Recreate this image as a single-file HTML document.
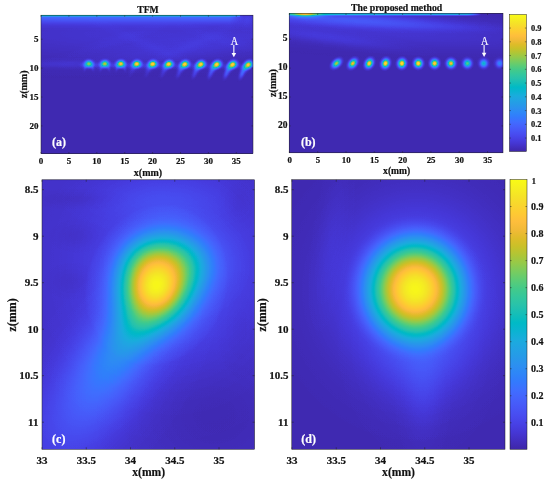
<!DOCTYPE html><html><head><meta charset="utf-8"><title>TFM vs proposed method</title><style>html,body{margin:0;padding:0;background:#fff}svg{display:block}text{font-family:"Liberation Serif","Times New Roman",serif;font-weight:bold;fill:#111;stroke:#111;stroke-width:0.2px}</style></head><body>
<svg width="550" height="485" viewBox="0 0 550 485">
<defs><filter id="parula" x="0" y="0" width="100%" height="100%" filterUnits="objectBoundingBox" color-interpolation-filters="sRGB"><feComponentTransfer><feFuncR type="table" tableValues="0.2422 0.2503 0.2575 0.2644 0.2703 0.2748 0.2780 0.2802 0.2813 0.2811 0.2799 0.2768 0.2713 0.2626 0.2483 0.2264 0.2021 0.1853 0.1798 0.1769 0.1724 0.1585 0.1481 0.1416 0.1300 0.1165 0.1025 0.0817 0.0478 0.0120 0.0014 0.0209 0.0704 0.1195 0.1568 0.1823 0.2028 0.2275 0.2632 0.3100 0.3594 0.4098 0.4658 0.5234 0.5791 0.6337 0.6870 0.7377 0.7858 0.8306 0.8725 0.9111 0.9456 0.9782 0.9967 0.9969 0.9948 0.9882 0.9775 0.9669 0.9608 0.9597 0.9629 0.9692 0.9769"/><feFuncG type="table" tableValues="0.1504 0.1647 0.1813 0.1970 0.2135 0.2326 0.2538 0.2758 0.2978 0.3196 0.3413 0.3629 0.3850 0.4076 0.4306 0.4544 0.4788 0.5015 0.5229 0.5437 0.5639 0.5838 0.6027 0.6209 0.6391 0.6567 0.6734 0.6886 0.7025 0.7149 0.7262 0.7364 0.7457 0.7541 0.7624 0.7709 0.7796 0.7877 0.7943 0.7989 0.8018 0.8031 0.8016 0.7978 0.7924 0.7853 0.7767 0.7672 0.7573 0.7475 0.7388 0.7318 0.7285 0.7308 0.7467 0.7691 0.7922 0.8163 0.8410 0.8659 0.8906 0.9146 0.9381 0.9610 0.9839"/><feFuncB type="table" tableValues="0.6603 0.7069 0.7498 0.7932 0.8340 0.8686 0.8967 0.9198 0.9391 0.9558 0.9697 0.9813 0.9895 0.9944 0.9981 0.9987 0.9911 0.9826 0.9717 0.9572 0.9405 0.9265 0.9125 0.9007 0.8918 0.8816 0.8670 0.8484 0.8267 0.8031 0.7782 0.7524 0.7258 0.6986 0.6708 0.6420 0.6111 0.5776 0.5416 0.5035 0.4629 0.4193 0.3761 0.3339 0.2907 0.2492 0.2132 0.1833 0.1598 0.1538 0.1623 0.1830 0.2167 0.2423 0.2344 0.2175 0.2007 0.1872 0.1754 0.1634 0.1530 0.1416 0.1260 0.1060 0.0805"/></feComponentTransfer></filter><radialGradient id="gs" cx="0.5" cy="0.5" r="0.5"><stop offset="0.000" stop-color="#fff" stop-opacity="1.0000"/><stop offset="0.050" stop-color="#fff" stop-opacity="0.9888"/><stop offset="0.100" stop-color="#fff" stop-opacity="0.9560"/><stop offset="0.150" stop-color="#fff" stop-opacity="0.9037"/><stop offset="0.200" stop-color="#fff" stop-opacity="0.8353"/><stop offset="0.250" stop-color="#fff" stop-opacity="0.7548"/><stop offset="0.300" stop-color="#fff" stop-opacity="0.6670"/><stop offset="0.350" stop-color="#fff" stop-opacity="0.5762"/><stop offset="0.400" stop-color="#fff" stop-opacity="0.4868"/><stop offset="0.450" stop-color="#fff" stop-opacity="0.4020"/><stop offset="0.500" stop-color="#fff" stop-opacity="0.3247"/><stop offset="0.550" stop-color="#fff" stop-opacity="0.2563"/><stop offset="0.600" stop-color="#fff" stop-opacity="0.1979"/><stop offset="0.650" stop-color="#fff" stop-opacity="0.1494"/><stop offset="0.700" stop-color="#fff" stop-opacity="0.1103"/><stop offset="0.750" stop-color="#fff" stop-opacity="0.0796"/><stop offset="0.800" stop-color="#fff" stop-opacity="0.0561"/><stop offset="0.850" stop-color="#fff" stop-opacity="0.0387"/><stop offset="0.900" stop-color="#fff" stop-opacity="0.0261"/><stop offset="0.950" stop-color="#fff" stop-opacity="0.0172"/><stop offset="1.000" stop-color="#fff" stop-opacity="0.0000"/></radialGradient><radialGradient id="gk" cx="0.5" cy="0.5" r="0.5"><stop offset="0.000" stop-color="#000" stop-opacity="1.0000"/><stop offset="0.050" stop-color="#000" stop-opacity="0.9888"/><stop offset="0.100" stop-color="#000" stop-opacity="0.9560"/><stop offset="0.150" stop-color="#000" stop-opacity="0.9037"/><stop offset="0.200" stop-color="#000" stop-opacity="0.8353"/><stop offset="0.250" stop-color="#000" stop-opacity="0.7548"/><stop offset="0.300" stop-color="#000" stop-opacity="0.6670"/><stop offset="0.350" stop-color="#000" stop-opacity="0.5762"/><stop offset="0.400" stop-color="#000" stop-opacity="0.4868"/><stop offset="0.450" stop-color="#000" stop-opacity="0.4020"/><stop offset="0.500" stop-color="#000" stop-opacity="0.3247"/><stop offset="0.550" stop-color="#000" stop-opacity="0.2563"/><stop offset="0.600" stop-color="#000" stop-opacity="0.1979"/><stop offset="0.650" stop-color="#000" stop-opacity="0.1494"/><stop offset="0.700" stop-color="#000" stop-opacity="0.1103"/><stop offset="0.750" stop-color="#000" stop-opacity="0.0796"/><stop offset="0.800" stop-color="#000" stop-opacity="0.0561"/><stop offset="0.850" stop-color="#000" stop-opacity="0.0387"/><stop offset="0.900" stop-color="#000" stop-opacity="0.0261"/><stop offset="0.950" stop-color="#000" stop-opacity="0.0172"/><stop offset="1.000" stop-color="#000" stop-opacity="0.0000"/></radialGradient><linearGradient id="cb" x1="0" y1="0" x2="0" y2="1"><stop offset="0.0000" stop-color="#f9fb15"/><stop offset="0.0312" stop-color="#f6ef20"/><stop offset="0.0625" stop-color="#f5e327"/><stop offset="0.0938" stop-color="#f9d62d"/><stop offset="0.1250" stop-color="#feca33"/><stop offset="0.1562" stop-color="#febe3c"/><stop offset="0.1875" stop-color="#f1ba37"/><stop offset="0.2188" stop-color="#debc29"/><stop offset="0.2500" stop-color="#c8c129"/><stop offset="0.2812" stop-color="#aec637"/><stop offset="0.3125" stop-color="#93ca4b"/><stop offset="0.3438" stop-color="#76cc61"/><stop offset="0.3750" stop-color="#5acc77"/><stop offset="0.4062" stop-color="#42ca8b"/><stop offset="0.4375" stop-color="#33c79d"/><stop offset="0.4688" stop-color="#27c2ac"/><stop offset="0.5000" stop-color="#14beb8"/><stop offset="0.5312" stop-color="#00bac6"/><stop offset="0.5625" stop-color="#0bb3d2"/><stop offset="0.5938" stop-color="#1aacdd"/><stop offset="0.6250" stop-color="#21a3e3"/><stop offset="0.6562" stop-color="#269ae8"/><stop offset="0.6875" stop-color="#2c90f0"/><stop offset="0.7188" stop-color="#2e86f8"/><stop offset="0.7500" stop-color="#337afd"/><stop offset="0.7812" stop-color="#3f6eff"/><stop offset="0.8125" stop-color="#4562fc"/><stop offset="0.8438" stop-color="#4757f7"/><stop offset="0.8750" stop-color="#484cf0"/><stop offset="0.9062" stop-color="#4741e5"/><stop offset="0.9375" stop-color="#4537d5"/><stop offset="0.9688" stop-color="#422ebf"/><stop offset="1.0000" stop-color="#3e26a8"/></linearGradient><radialGradient id="gc" cx="0.5" cy="0.5" r="0.5"><stop offset="0.000" stop-color="#fff" stop-opacity="1.0000"/><stop offset="0.042" stop-color="#fff" stop-opacity="0.9957"/><stop offset="0.083" stop-color="#fff" stop-opacity="0.9830"/><stop offset="0.125" stop-color="#fff" stop-opacity="0.9619"/><stop offset="0.167" stop-color="#fff" stop-opacity="0.9330"/><stop offset="0.208" stop-color="#fff" stop-opacity="0.8967"/><stop offset="0.250" stop-color="#fff" stop-opacity="0.8536"/><stop offset="0.292" stop-color="#fff" stop-opacity="0.8044"/><stop offset="0.333" stop-color="#fff" stop-opacity="0.7500"/><stop offset="0.375" stop-color="#fff" stop-opacity="0.6913"/><stop offset="0.417" stop-color="#fff" stop-opacity="0.6294"/><stop offset="0.458" stop-color="#fff" stop-opacity="0.5653"/><stop offset="0.500" stop-color="#fff" stop-opacity="0.5000"/><stop offset="0.542" stop-color="#fff" stop-opacity="0.4347"/><stop offset="0.583" stop-color="#fff" stop-opacity="0.3706"/><stop offset="0.625" stop-color="#fff" stop-opacity="0.3087"/><stop offset="0.667" stop-color="#fff" stop-opacity="0.2500"/><stop offset="0.708" stop-color="#fff" stop-opacity="0.1956"/><stop offset="0.750" stop-color="#fff" stop-opacity="0.1464"/><stop offset="0.792" stop-color="#fff" stop-opacity="0.1033"/><stop offset="0.833" stop-color="#fff" stop-opacity="0.0670"/><stop offset="0.875" stop-color="#fff" stop-opacity="0.0381"/><stop offset="0.917" stop-color="#fff" stop-opacity="0.0170"/><stop offset="0.958" stop-color="#fff" stop-opacity="0.0043"/><stop offset="1.000" stop-color="#fff" stop-opacity="0.0000"/></radialGradient><mask id="mR" maskContentUnits="objectBoundingBox"><rect width="1" height="1" fill="url(#fadeR)"/></mask><linearGradient id="vg" x1="0" y1="0" x2="0" y2="1"><stop offset="0.000" stop-color="#fff" stop-opacity="1.0000"/><stop offset="0.083" stop-color="#fff" stop-opacity="0.9692"/><stop offset="0.167" stop-color="#fff" stop-opacity="0.8825"/><stop offset="0.250" stop-color="#fff" stop-opacity="0.7548"/><stop offset="0.333" stop-color="#fff" stop-opacity="0.6065"/><stop offset="0.417" stop-color="#fff" stop-opacity="0.4578"/><stop offset="0.500" stop-color="#fff" stop-opacity="0.3247"/><stop offset="0.583" stop-color="#fff" stop-opacity="0.2163"/><stop offset="0.667" stop-color="#fff" stop-opacity="0.1353"/><stop offset="0.750" stop-color="#fff" stop-opacity="0.0796"/><stop offset="0.833" stop-color="#fff" stop-opacity="0.0439"/><stop offset="0.917" stop-color="#fff" stop-opacity="0.0228"/><stop offset="1.000" stop-color="#fff" stop-opacity="0.0000"/></linearGradient><linearGradient id="fadeR" x1="0" y1="0" x2="1" y2="0"><stop offset="0" stop-color="#fff" stop-opacity="1"/><stop offset="0.93" stop-color="#fff" stop-opacity="1"/><stop offset="1" stop-color="#fff" stop-opacity="0"/></linearGradient><filter id="b1" x="-20%" y="-20%" width="140%" height="140%"><feGaussianBlur stdDeviation="0.7"/></filter><filter id="b3" x="-20%" y="-20%" width="140%" height="140%"><feGaussianBlur stdDeviation="3"/></filter><filter id="b8" x="-30%" y="-30%" width="160%" height="160%"><feGaussianBlur stdDeviation="8"/></filter></defs>
<rect width="550" height="485" fill="#fff"/>
<svg x="41" y="15.2" width="212" height="138.4" viewBox="41 15.2 212 138.4" overflow="hidden"><g filter="url(#parula)"><rect x="36" y="10.2" width="222" height="148.4" fill="#030303"/><ellipse cx="147" cy="34" rx="420" ry="51" fill="url(#gs)" opacity="0.05"/><ellipse cx="180" cy="50" rx="210" ry="24" fill="url(#gs)" opacity="0.025" transform="rotate(-8 180 50)"/><ellipse cx="62" cy="64" rx="72" ry="7.8" fill="url(#gs)" opacity="0.035"/><ellipse cx="150" cy="46" rx="105" ry="10.5" fill="url(#gs)" opacity="0.013" transform="rotate(24 150 46)"/><ellipse cx="192" cy="45" rx="105" ry="10.5" fill="url(#gs)" opacity="0.013" transform="rotate(-24 192 45)"/><ellipse cx="118" cy="40" rx="90" ry="10.5" fill="url(#gs)" opacity="0.01" transform="rotate(-18 118 40)"/><ellipse cx="218" cy="38" rx="75" ry="10.5" fill="url(#gs)" opacity="0.01" transform="rotate(18 218 38)"/><rect x="36" y="13" width="204" height="3.4" fill="#fff" opacity="0.3" filter="url(#b1)"/><rect x="36" y="14.5" width="208" height="16.5" fill="url(#vg)" opacity="0.2" mask="url(#mR)"/><ellipse cx="247" cy="19" rx="18" ry="15" fill="url(#gs)" opacity="0.06"/><ellipse cx="88.8" cy="65" rx="10.8" ry="5.1" fill="url(#gs)" opacity="0.3"/><ellipse cx="88.8" cy="63.4" rx="6.9" ry="5.7" fill="url(#gs)" opacity="0.6"/><ellipse cx="85.2" cy="67.3" rx="3" ry="6.6" fill="url(#gs)" opacity="0.07" transform="rotate(15 85.2 67.3)"/><ellipse cx="92.4" cy="67.3" rx="3" ry="6.6" fill="url(#gs)" opacity="0.07" transform="rotate(-15 92.4 67.3)"/><ellipse cx="104.72" cy="65.11" rx="10.8" ry="5.1" fill="url(#gs)" opacity="0.3" transform="rotate(-1.2 104.72 65.11)"/><ellipse cx="104.78" cy="63.51" rx="6.96" ry="5.73" fill="url(#gs)" opacity="0.68" transform="rotate(-3.5 104.78 63.51)"/><ellipse cx="101.2" cy="67.41" rx="3" ry="6.6" fill="url(#gs)" opacity="0.07" transform="rotate(15 101.2 67.41)"/><ellipse cx="108.4" cy="67.41" rx="3" ry="6.6" fill="url(#gs)" opacity="0.07" transform="rotate(-15 108.4 67.41)"/><ellipse cx="120.64" cy="65.22" rx="10.8" ry="5.1" fill="url(#gs)" opacity="0.3" transform="rotate(-2.4 120.64 65.22)"/><ellipse cx="120.76" cy="63.62" rx="7.02" ry="5.76" fill="url(#gs)" opacity="0.85" transform="rotate(-7 120.76 63.62)"/><ellipse cx="117.2" cy="67.52" rx="3" ry="6.6" fill="url(#gs)" opacity="0.07" transform="rotate(15 117.2 67.52)"/><ellipse cx="124.4" cy="67.52" rx="3" ry="6.6" fill="url(#gs)" opacity="0.07" transform="rotate(-15 124.4 67.52)"/><ellipse cx="136.56" cy="65.33" rx="10.8" ry="5.1" fill="url(#gs)" opacity="0.3" transform="rotate(-3.6 136.56 65.33)"/><ellipse cx="136.74" cy="63.73" rx="7.08" ry="5.79" fill="url(#gs)" opacity="0.9" transform="rotate(-10.5 136.74 63.73)"/><ellipse cx="133.82" cy="67.43" rx="5.4" ry="7.8" fill="url(#gs)" opacity="0.078" transform="rotate(35 133.82 67.43)"/><ellipse cx="131.24" cy="72.63" rx="4.5" ry="10.2" fill="url(#gs)" opacity="0.0153" transform="rotate(22 131.24 72.63)"/><ellipse cx="152.48" cy="65.44" rx="10.8" ry="5.1" fill="url(#gs)" opacity="0.3" transform="rotate(-4.8 152.48 65.44)"/><ellipse cx="152.72" cy="63.84" rx="7.14" ry="5.82" fill="url(#gs)" opacity="0.93" transform="rotate(-14 152.72 63.84)"/><ellipse cx="149.76" cy="67.54" rx="5.4" ry="7.8" fill="url(#gs)" opacity="0.104" transform="rotate(35 149.76 67.54)"/><ellipse cx="147.12" cy="72.74" rx="4.5" ry="10.2" fill="url(#gs)" opacity="0.0272" transform="rotate(22 147.12 72.74)"/><ellipse cx="168.4" cy="65.55" rx="10.8" ry="5.1" fill="url(#gs)" opacity="0.3" transform="rotate(-6 168.4 65.55)"/><ellipse cx="168.7" cy="63.95" rx="7.2" ry="5.85" fill="url(#gs)" opacity="0.93" transform="rotate(-17.5 168.7 63.95)"/><ellipse cx="165.7" cy="67.65" rx="5.4" ry="7.8" fill="url(#gs)" opacity="0.13" transform="rotate(35 165.7 67.65)"/><ellipse cx="163" cy="72.85" rx="4.5" ry="10.2" fill="url(#gs)" opacity="0.0425" transform="rotate(22 163 72.85)"/><ellipse cx="184.42" cy="65.66" rx="10.8" ry="5.1" fill="url(#gs)" opacity="0.3" transform="rotate(-7.2 184.42 65.66)"/><ellipse cx="184.78" cy="64.06" rx="7.26" ry="5.88" fill="url(#gs)" opacity="0.93" transform="rotate(-21 184.78 64.06)"/><ellipse cx="181.74" cy="67.76" rx="5.4" ry="7.8" fill="url(#gs)" opacity="0.156" transform="rotate(35 181.74 67.76)"/><ellipse cx="178.98" cy="72.96" rx="4.5" ry="10.2" fill="url(#gs)" opacity="0.0612" transform="rotate(22 178.98 72.96)"/><ellipse cx="200.34" cy="65.77" rx="10.8" ry="5.1" fill="url(#gs)" opacity="0.3" transform="rotate(-8.4 200.34 65.77)"/><ellipse cx="200.76" cy="64.17" rx="7.32" ry="5.91" fill="url(#gs)" opacity="0.93" transform="rotate(-24.5 200.76 64.17)"/><ellipse cx="197.68" cy="67.87" rx="5.4" ry="7.8" fill="url(#gs)" opacity="0.182" transform="rotate(35 197.68 67.87)"/><ellipse cx="194.86" cy="73.07" rx="4.5" ry="10.2" fill="url(#gs)" opacity="0.0833" transform="rotate(22 194.86 73.07)"/><ellipse cx="216.26" cy="65.88" rx="10.8" ry="5.1" fill="url(#gs)" opacity="0.3" transform="rotate(-9.6 216.26 65.88)"/><ellipse cx="216.74" cy="64.28" rx="7.38" ry="5.94" fill="url(#gs)" opacity="0.93" transform="rotate(-28 216.74 64.28)"/><ellipse cx="213.62" cy="67.98" rx="5.4" ry="7.8" fill="url(#gs)" opacity="0.208" transform="rotate(35 213.62 67.98)"/><ellipse cx="210.74" cy="73.18" rx="4.5" ry="10.2" fill="url(#gs)" opacity="0.1088" transform="rotate(22 210.74 73.18)"/><ellipse cx="232.08" cy="65.99" rx="10.8" ry="5.1" fill="url(#gs)" opacity="0.3" transform="rotate(-10.8 232.08 65.99)"/><ellipse cx="232.62" cy="64.39" rx="7.44" ry="5.97" fill="url(#gs)" opacity="0.92" transform="rotate(-31.5 232.62 64.39)"/><ellipse cx="229.46" cy="68.09" rx="5.4" ry="7.8" fill="url(#gs)" opacity="0.234" transform="rotate(35 229.46 68.09)"/><ellipse cx="226.52" cy="73.29" rx="4.5" ry="10.2" fill="url(#gs)" opacity="0.1377" transform="rotate(22 226.52 73.29)"/><ellipse cx="247.7" cy="66.1" rx="10.8" ry="5.1" fill="url(#gs)" opacity="0.3" transform="rotate(-12 247.7 66.1)"/><ellipse cx="248.3" cy="64.5" rx="7.5" ry="6" fill="url(#gs)" opacity="0.85" transform="rotate(-35 248.3 64.5)"/><ellipse cx="245.1" cy="68.2" rx="5.4" ry="7.8" fill="url(#gs)" opacity="0.26" transform="rotate(35 245.1 68.2)"/><ellipse cx="242.1" cy="73.4" rx="4.5" ry="10.2" fill="url(#gs)" opacity="0.17" transform="rotate(22 242.1 73.4)"/></g></svg>
<svg x="289.2" y="13.5" width="213.8" height="139.3" viewBox="289.2 13.5 213.8 139.3" overflow="hidden"><g filter="url(#parula)"><rect x="284.2" y="8.5" width="223.8" height="149.3" fill="#030303"/><ellipse cx="385" cy="31" rx="360" ry="33" fill="url(#gs)" opacity="0.05" transform="rotate(3 385 31)"/><ellipse cx="345" cy="19.5" rx="180" ry="12.6" fill="url(#gs)" opacity="0.12" transform="rotate(2 345 19.5)"/><ellipse cx="420" cy="26" rx="150" ry="9" fill="url(#gs)" opacity="0.04" transform="rotate(2 420 26)"/><ellipse cx="330" cy="38" rx="135" ry="12" fill="url(#gs)" opacity="0.035" transform="rotate(8 330 38)"/><rect x="285" y="12.0" width="196" height="3.3" fill="url(#fadeR)" opacity="0.36" filter="url(#b1)"/><ellipse cx="306" cy="14" rx="33" ry="6.9" fill="url(#gs)" opacity="0.42"/><ellipse cx="305" cy="13.7" rx="18" ry="3.6" fill="url(#gs)" opacity="0.55"/><ellipse cx="336.5" cy="63.4" rx="6" ry="9.15" fill="url(#gs)" opacity="0.74" transform="rotate(48 336.5 63.4)"/><ellipse cx="352.8" cy="63.4" rx="6.24" ry="8.82" fill="url(#gs)" opacity="0.84" transform="rotate(39 352.8 63.4)"/><ellipse cx="369.2" cy="63.4" rx="6.48" ry="8.49" fill="url(#gs)" opacity="0.92" transform="rotate(30 369.2 63.4)"/><ellipse cx="385.5" cy="63.4" rx="6.72" ry="8.16" fill="url(#gs)" opacity="0.96" transform="rotate(21 385.5 63.4)"/><ellipse cx="401.9" cy="63.4" rx="6.96" ry="7.83" fill="url(#gs)" opacity="0.98" transform="rotate(12 401.9 63.4)"/><ellipse cx="418.3" cy="63.4" rx="7.2" ry="7.5" fill="url(#gs)" opacity="0.97" transform="rotate(3 418.3 63.4)"/><ellipse cx="434.6" cy="63.4" rx="7.2" ry="7.5" fill="url(#gs)" opacity="0.93" transform="rotate(3 434.6 63.4)"/><ellipse cx="451" cy="63.4" rx="7.2" ry="7.5" fill="url(#gs)" opacity="0.85" transform="rotate(3 451 63.4)"/><ellipse cx="467.4" cy="63.4" rx="7.2" ry="7.5" fill="url(#gs)" opacity="0.62" transform="rotate(3 467.4 63.4)"/><ellipse cx="483.7" cy="63.4" rx="7.2" ry="7.5" fill="url(#gs)" opacity="0.45" transform="rotate(3 483.7 63.4)"/><ellipse cx="499.6" cy="63.4" rx="7.2" ry="7.5" fill="url(#gs)" opacity="0.28" transform="rotate(3 499.6 63.4)"/></g></svg>
<svg x="42" y="179.8" width="212.6" height="269.5" viewBox="42 179.8 212.6 269.5" overflow="hidden"><g filter="url(#parula)"><rect x="37" y="174.8" width="222.6" height="279.5" fill="#0b0b0b"/><ellipse cx="215" cy="415" rx="150" ry="126" fill="url(#gk)" opacity="0.75"/><ellipse cx="78" cy="199" rx="72" ry="15" fill="url(#gk)" opacity="0.4"/><ellipse cx="78" cy="236" rx="42" ry="24" fill="url(#gk)" opacity="0.4"/><ellipse cx="72" cy="281" rx="42" ry="27" fill="url(#gk)" opacity="0.35"/><ellipse cx="239" cy="203" rx="30" ry="42" fill="url(#gk)" opacity="0.4"/><ellipse cx="240" cy="330" rx="36" ry="90" fill="url(#gk)" opacity="0.3"/><ellipse cx="172" cy="270" rx="168" ry="180" fill="url(#gs)" opacity="0.11"/><ellipse cx="160" cy="200" rx="120" ry="42" fill="url(#gs)" opacity="0.04"/><ellipse cx="100" cy="385" rx="84" ry="180" fill="url(#gs)" opacity="0.13" transform="rotate(36 100 385)"/><ellipse cx="122" cy="345" rx="60" ry="126" fill="url(#gs)" opacity="0.15" transform="rotate(36 122 345)"/><ellipse cx="142" cy="318" rx="42" ry="78" fill="url(#gs)" opacity="0.17" transform="rotate(32 142 318)"/><ellipse cx="177" cy="264" rx="75" ry="60" fill="url(#gs)" opacity="0.3"/><ellipse cx="146" cy="265" rx="48" ry="48" fill="url(#gs)" opacity="0.2"/><ellipse cx="156.5" cy="285" rx="70.5" ry="82.5" fill="url(#gs)" opacity="0.985" transform="rotate(20 156.5 285)"/></g></svg>
<svg x="291.8" y="179.7" width="213.2" height="269.6" viewBox="291.8 179.7 213.2 269.6" overflow="hidden"><g filter="url(#parula)"><rect x="286.8" y="174.7" width="223.2" height="279.6" fill="#030303"/><ellipse cx="332" cy="235" rx="27" ry="135" fill="url(#gs)" opacity="0.02" transform="rotate(8 332 235)"/><ellipse cx="421" cy="342" rx="90" ry="126" fill="url(#gs)" opacity="0.09"/><ellipse cx="423" cy="388" rx="36" ry="102" fill="url(#gs)" opacity="0.035"/><ellipse cx="416.5" cy="289.5" rx="150" ry="156" fill="url(#gs)" opacity="0.19"/><ellipse cx="415.2" cy="289" rx="72.5" ry="75" fill="url(#gc)" opacity="0.985"/></g></svg>
<rect x="509.4" y="14.5" width="17" height="137" fill="url(#cb)"/>
<rect x="510" y="179.5" width="17" height="269.8" fill="url(#cb)"/>
<rect x="41" y="15.2" width="212" height="138.4" fill="none" stroke="#222" stroke-width="0.5"/><path d="M41 153.6v-1.5 M41 15.2v1.5M68.9 153.6v-1.5 M68.9 15.2v1.5M96.8 153.6v-1.5 M96.8 15.2v1.5M124.7 153.6v-1.5 M124.7 15.2v1.5M152.6 153.6v-1.5 M152.6 15.2v1.5M180.5 153.6v-1.5 M180.5 15.2v1.5M208.4 153.6v-1.5 M208.4 15.2v1.5M236.3 153.6v-1.5 M236.3 15.2v1.5M41 39.2h1.5 M253 39.2h-1.5M41 68.1h1.5 M253 68.1h-1.5M41 97h1.5 M253 97h-1.5M41 125.9h1.5 M253 125.9h-1.5" stroke="#222" stroke-width="0.5" fill="none"/>
<rect x="289.2" y="13.5" width="213.8" height="139.3" fill="none" stroke="#222" stroke-width="0.5"/><path d="M289.4 152.8v-1.5 M289.4 13.5v1.5M317.7 152.8v-1.5 M317.7 13.5v1.5M346 152.8v-1.5 M346 13.5v1.5M374.3 152.8v-1.5 M374.3 13.5v1.5M402.6 152.8v-1.5 M402.6 13.5v1.5M430.9 152.8v-1.5 M430.9 13.5v1.5M459.2 152.8v-1.5 M459.2 13.5v1.5M487.5 152.8v-1.5 M487.5 13.5v1.5M289.2 39.2h1.5 M503 39.2h-1.5M289.2 68.1h1.5 M503 68.1h-1.5M289.2 97h1.5 M503 97h-1.5M289.2 125.9h1.5 M503 125.9h-1.5" stroke="#222" stroke-width="0.5" fill="none"/>
<rect x="42" y="179.8" width="212.6" height="269.5" fill="none" stroke="#222" stroke-width="0.5"/><path d="M42 449.3v-2 M42 179.8v2M86.25 449.3v-2 M86.25 179.8v2M130.5 449.3v-2 M130.5 179.8v2M174.75 449.3v-2 M174.75 179.8v2M219 449.3v-2 M219 179.8v2M42 189.7h2 M254.6 189.7h-2M42 236.2h2 M254.6 236.2h-2M42 282.7h2 M254.6 282.7h-2M42 329.2h2 M254.6 329.2h-2M42 375.7h2 M254.6 375.7h-2M42 422.2h2 M254.6 422.2h-2" stroke="#222" stroke-width="0.5" fill="none"/>
<rect x="291.8" y="179.7" width="213.2" height="269.6" fill="none" stroke="#222" stroke-width="0.5"/><path d="M292 449.3v-2 M292 179.7v2M336.25 449.3v-2 M336.25 179.7v2M380.5 449.3v-2 M380.5 179.7v2M424.75 449.3v-2 M424.75 179.7v2M469 449.3v-2 M469 179.7v2M291.8 189.7h2 M505 189.7h-2M291.8 236.2h2 M505 236.2h-2M291.8 282.7h2 M505 282.7h-2M291.8 329.2h2 M505 329.2h-2M291.8 375.7h2 M505 375.7h-2M291.8 422.2h2 M505 422.2h-2" stroke="#222" stroke-width="0.5" fill="none"/>
<rect x="509.4" y="14.5" width="17" height="137" fill="none" stroke="#222" stroke-width="0.5"/><path d="M509.4 138.05h1.5 M526.4 138.05h-1.5M509.4 124.3h1.5 M526.4 124.3h-1.5M509.4 110.55h1.5 M526.4 110.55h-1.5M509.4 96.8h1.5 M526.4 96.8h-1.5M509.4 83.05h1.5 M526.4 83.05h-1.5M509.4 69.3h1.5 M526.4 69.3h-1.5M509.4 55.55h1.5 M526.4 55.55h-1.5M509.4 41.8h1.5 M526.4 41.8h-1.5M509.4 28.05h1.5 M526.4 28.05h-1.5" stroke="#222" stroke-width="0.5" fill="none"/>
<rect x="510" y="179.5" width="17" height="269.8" fill="none" stroke="#222" stroke-width="0.5"/><path d="M510 422.77h1.5 M527 422.77h-1.5M510 395.74h1.5 M527 395.74h-1.5M510 368.71h1.5 M527 368.71h-1.5M510 341.68h1.5 M527 341.68h-1.5M510 314.65h1.5 M527 314.65h-1.5M510 287.62h1.5 M527 287.62h-1.5M510 260.59h1.5 M527 260.59h-1.5M510 233.56h1.5 M527 233.56h-1.5M510 206.53h1.5 M527 206.53h-1.5" stroke="#222" stroke-width="0.5" fill="none"/>
<text x="148" y="13.3" font-size="9.7" text-anchor="middle">TFM</text>
<text x="396.6" y="11.4" font-size="9.8" text-anchor="middle">The proposed method</text>
<text x="41" y="164.1" font-size="9" text-anchor="middle">0</text>
<text x="68.9" y="164.1" font-size="9" text-anchor="middle">5</text>
<text x="96.8" y="164.1" font-size="9" text-anchor="middle">10</text>
<text x="124.7" y="164.1" font-size="9" text-anchor="middle">15</text>
<text x="152.6" y="164.1" font-size="9" text-anchor="middle">20</text>
<text x="180.5" y="164.1" font-size="9" text-anchor="middle">25</text>
<text x="208.4" y="164.1" font-size="9" text-anchor="middle">30</text>
<text x="236.3" y="164.1" font-size="9" text-anchor="middle">35</text>
<text x="289.6" y="163.2" font-size="8.9" text-anchor="middle">0</text>
<text x="317.9" y="163.2" font-size="8.9" text-anchor="middle">5</text>
<text x="346.2" y="163.2" font-size="8.9" text-anchor="middle">10</text>
<text x="374.5" y="163.2" font-size="8.9" text-anchor="middle">15</text>
<text x="402.8" y="163.2" font-size="8.9" text-anchor="middle">20</text>
<text x="431.1" y="163.2" font-size="8.9" text-anchor="middle">25</text>
<text x="459.4" y="163.2" font-size="8.9" text-anchor="middle">30</text>
<text x="487.7" y="163.2" font-size="8.9" text-anchor="middle">35</text>
<text x="38.5" y="42.2" font-size="9" text-anchor="end">5</text>
<text x="287.6" y="40.8" font-size="9.5" text-anchor="end">5</text>
<text x="38.5" y="71.1" font-size="9" text-anchor="end">10</text>
<text x="287.6" y="69.7" font-size="9.5" text-anchor="end">10</text>
<text x="38.5" y="100" font-size="9" text-anchor="end">15</text>
<text x="287.6" y="98.6" font-size="9.5" text-anchor="end">15</text>
<text x="38.5" y="128.9" font-size="9" text-anchor="end">20</text>
<text x="287.6" y="127.5" font-size="9.5" text-anchor="end">20</text>
<text x="148" y="175.5" font-size="10" text-anchor="middle">x(mm)</text>
<text x="396.7" y="173.7" font-size="9.6" text-anchor="middle">x(mm)</text>
<text x="27.2" y="84.4" font-size="10" text-anchor="middle" transform="rotate(-90 27.2 84.4)">z(mm)</text>
<text x="275.7" y="83" font-size="10" text-anchor="middle" transform="rotate(-90 275.7 83)">z(mm)</text>
<text x="42" y="463.6" font-size="11" text-anchor="middle">33</text>
<text x="86.25" y="463.6" font-size="11" text-anchor="middle">33.5</text>
<text x="130.5" y="463.6" font-size="11" text-anchor="middle">34</text>
<text x="174.75" y="463.6" font-size="11" text-anchor="middle">34.5</text>
<text x="219" y="463.6" font-size="11" text-anchor="middle">35</text>
<text x="292" y="463.6" font-size="11" text-anchor="middle">33</text>
<text x="336.25" y="463.6" font-size="11" text-anchor="middle">33.5</text>
<text x="380.5" y="463.6" font-size="11" text-anchor="middle">34</text>
<text x="424.75" y="463.6" font-size="11" text-anchor="middle">34.5</text>
<text x="469" y="463.6" font-size="11" text-anchor="middle">35</text>
<text x="38.5" y="193.4" font-size="11" text-anchor="end">8.5</text>
<text x="288.5" y="193.4" font-size="11" text-anchor="end">8.5</text>
<text x="38.5" y="239.9" font-size="11" text-anchor="end">9</text>
<text x="288.5" y="239.9" font-size="11" text-anchor="end">9</text>
<text x="38.5" y="286.4" font-size="11" text-anchor="end">9.5</text>
<text x="288.5" y="286.4" font-size="11" text-anchor="end">9.5</text>
<text x="38.5" y="332.9" font-size="11" text-anchor="end">10</text>
<text x="288.5" y="332.9" font-size="11" text-anchor="end">10</text>
<text x="38.5" y="379.4" font-size="11" text-anchor="end">10.5</text>
<text x="288.5" y="379.4" font-size="11" text-anchor="end">10.5</text>
<text x="38.5" y="425.9" font-size="11" text-anchor="end">11</text>
<text x="288.5" y="425.9" font-size="11" text-anchor="end">11</text>
<text x="148.7" y="476.4" font-size="11.6" text-anchor="middle">x(mm)</text>
<text x="398.5" y="476.4" font-size="11.6" text-anchor="middle">x(mm)</text>
<text x="16.3" y="315" font-size="12" text-anchor="middle" transform="rotate(-90 16.3 315)">z(mm)</text>
<text x="266.3" y="315" font-size="12" text-anchor="middle" transform="rotate(-90 266.3 315)">z(mm)</text>
<text x="531" y="141.05" font-size="8.4" text-anchor="start">0.1</text>
<text x="531" y="127.3" font-size="8.4" text-anchor="start">0.2</text>
<text x="531" y="113.55" font-size="8.4" text-anchor="start">0.3</text>
<text x="531" y="99.8" font-size="8.4" text-anchor="start">0.4</text>
<text x="531" y="86.05" font-size="8.4" text-anchor="start">0.5</text>
<text x="531" y="72.3" font-size="8.4" text-anchor="start">0.6</text>
<text x="531" y="58.55" font-size="8.4" text-anchor="start">0.7</text>
<text x="531" y="44.8" font-size="8.4" text-anchor="start">0.8</text>
<text x="531" y="31.05" font-size="8.4" text-anchor="start">0.9</text>
<text x="531" y="426.07" font-size="10" text-anchor="start">0.1</text>
<text x="531" y="399.04" font-size="10" text-anchor="start">0.2</text>
<text x="531" y="372.01" font-size="10" text-anchor="start">0.3</text>
<text x="531" y="344.98" font-size="10" text-anchor="start">0.4</text>
<text x="531" y="317.95" font-size="10" text-anchor="start">0.5</text>
<text x="531" y="290.92" font-size="10" text-anchor="start">0.6</text>
<text x="531" y="263.89" font-size="10" text-anchor="start">0.7</text>
<text x="531" y="236.86" font-size="10" text-anchor="start">0.8</text>
<text x="531" y="209.83" font-size="10" text-anchor="start">0.9</text>
<text x="531.8" y="183.6" font-size="8.4" text-anchor="start">1</text>
<text x="52" y="145.9" font-size="12" text-anchor="start" style="fill:#fff;stroke:#fff">(a)</text>
<text x="300.9" y="145.7" font-size="12" text-anchor="start" style="fill:#fff;stroke:#fff">(b)</text>
<text x="52.1" y="442.6" font-size="12" text-anchor="start" style="fill:#fff;stroke:#fff">(c)</text>
<text x="301.3" y="442.8" font-size="12" text-anchor="start" style="fill:#fff;stroke:#fff">(d)</text>
<text x="234.4" y="44.8" font-size="11.8" text-anchor="middle" style="fill:#fff;stroke:#fff;font-weight:normal" textLength="7.4" lengthAdjust="spacingAndGlyphs">A</text>
<path d="M233.85 45V54.3" stroke="#fff" stroke-width="1.1" fill="none"/><path d="M233.85 57.3l-2.3 -4.3h4.6z" fill="#fff"/>
<text x="484.6" y="44.8" font-size="11.8" text-anchor="middle" style="fill:#fff;stroke:#fff;font-weight:normal" textLength="7.4" lengthAdjust="spacingAndGlyphs">A</text>
<path d="M484.1 45V54.1" stroke="#fff" stroke-width="1.1" fill="none"/><path d="M484.1 57.1l-2.3 -4.3h4.6z" fill="#fff"/>
</svg></body></html>
